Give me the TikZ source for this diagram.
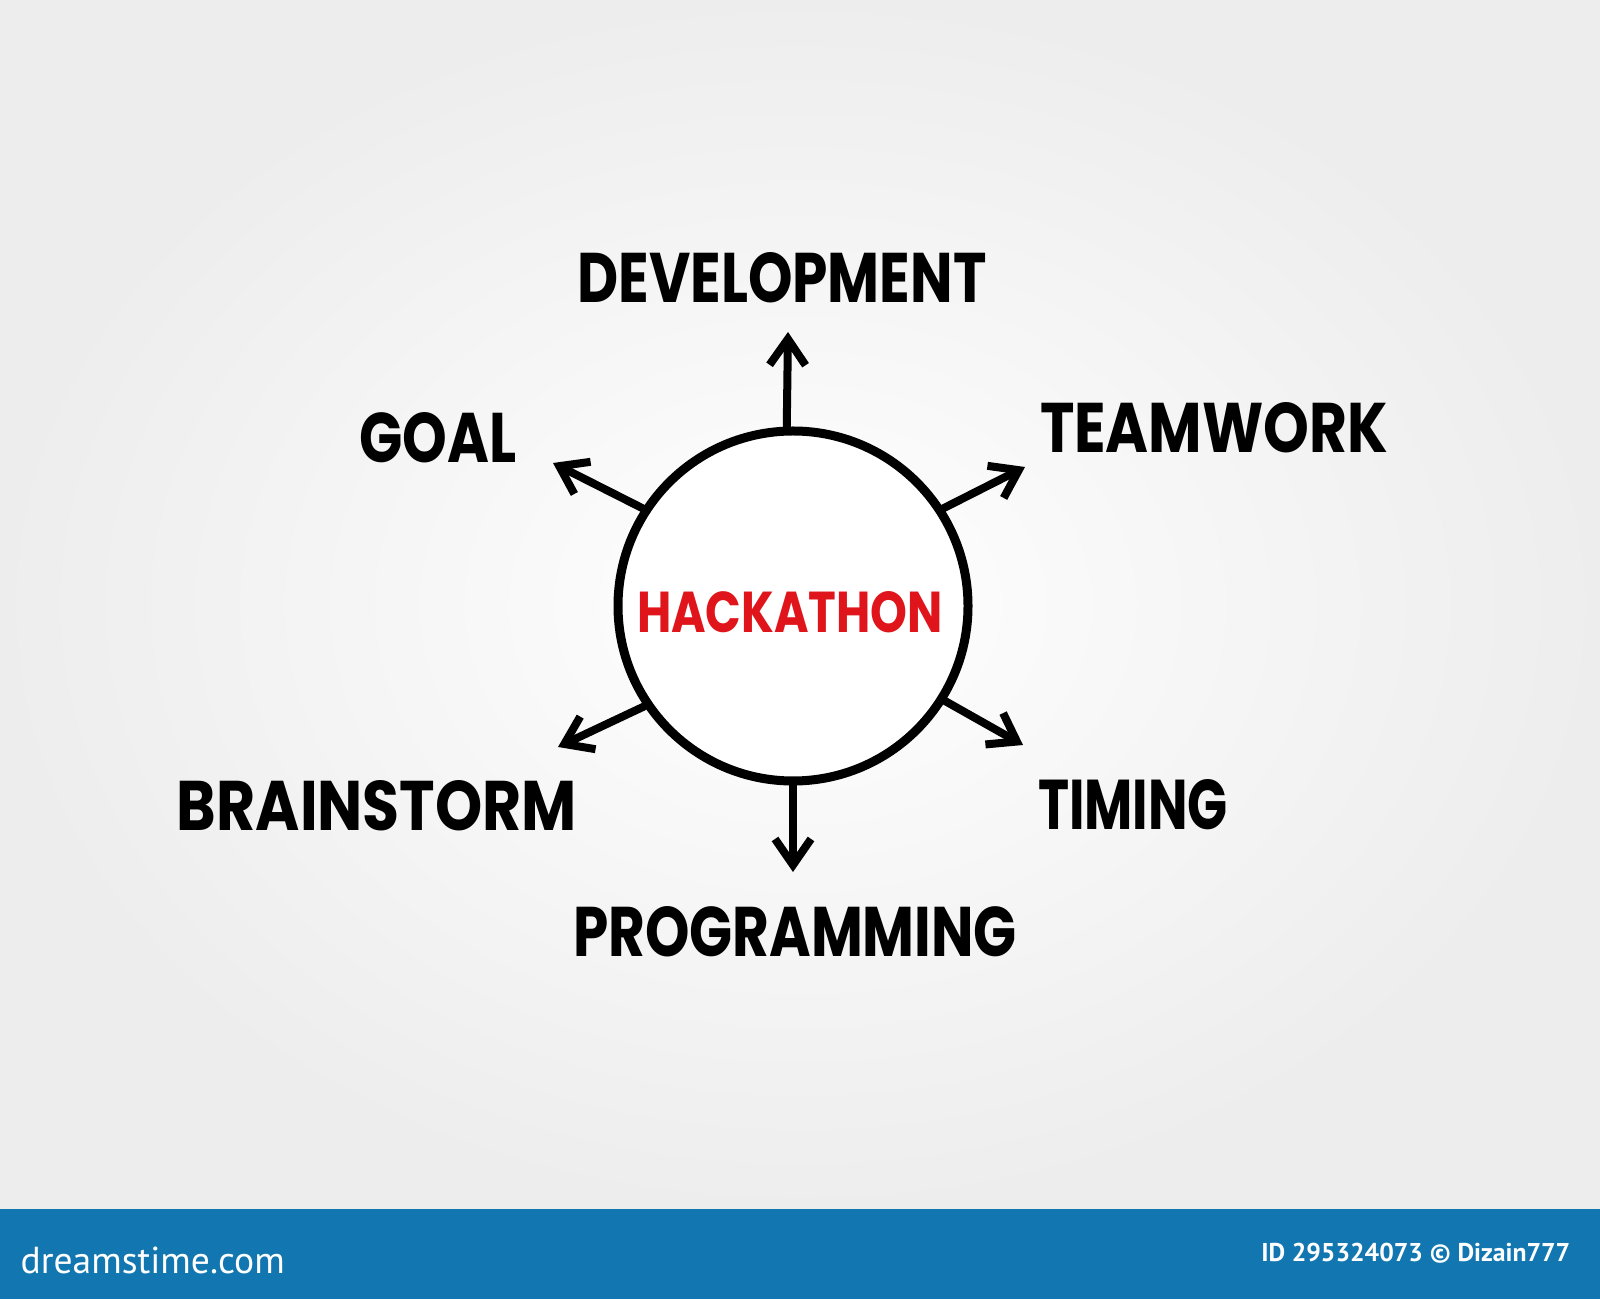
\documentclass[tikz,border=0pt]{standalone}
\usepackage{fontspec}
\setmainfont{Poppins}
\newfontfamily\barfont{PT Sans}
\usetikzlibrary{calc, arrows.meta, positioning}
\usepackage{xcolor}
\definecolor{barblue}{HTML}{1277B0}
\definecolor{hackred}{HTML}{E0141B}
\newcommand{\word}[3]{\resizebox{#1}{#2}{\bfseries #3}}

\begin{document}
\begin{tikzpicture}[auto, >={Straight Barb[length=2.6mm, width=3.6mm, line width=0.08cm]}]
				\tikzstyle{round} = [line width=0.09cm, draw=black, fill=white, circle, minimum size=3.5cm, inner sep=0pt]
				\tikzstyle{invis} = [draw=none, inner sep=0pt]
				\tikzstyle{arr}   = [->, line width=0.08cm, line cap=round, line join=round]
				
				\useasboundingbox (0,0) rectangle (16,12.99);
				\shade[inner color=white, outer color=black!7] (0,0.9) rectangle (16,12.99);
				\fill[barblue] (0,0) rectangle (16,0.9);
				
				\node[round] 			at (7.93, 6.93)		(hack) 	{};
				\node[invis, text=hackred] at (7.90, 6.87)	(hlbl) 	{\word{3.06cm}{0.41cm}{HACKATHON}};
				\node[invis] 			at (7.82, 10.21)	(dev) 	{\word{4.09cm}{0.50cm}{DEVELOPMENT}};
				\node[invis] 			at (4.38, 8.61)		(goal) 	{\word{1.57cm}{0.50cm}{GOAL}};
				\node[invis] 			at (12.14, 8.71)	(team) 	{\word{3.48cm}{0.50cm}{TEAMWORK}};
				\node[invis] 			at (3.77, 4.93)		(brain) {\word{4.00cm}{0.50cm}{BRAINSTORM}};
				\node[invis] 			at (11.33, 4.94)	(timing) {\word{1.90cm}{0.50cm}{TIMING}};
				\node[invis] 			at (7.95, 3.67)		(prog) 	{\word{4.44cm}{0.50cm}{PROGRAMMING}};
				
				\coordinate (devtip)	at (7.88, 9.67);
				\coordinate (goaltip)	at (5.53, 8.36);
				\coordinate (teamtip)	at (10.25, 8.32);
				\coordinate (braintip)	at (5.58, 5.52);
				\coordinate (timetip)	at (10.23, 5.54);
				\coordinate (progtip)	at (7.93, 4.27);
				
				\path[arr]
				(hack.92)	edge	(devtip)
				(hack.147)	edge	(goaltip)
				(hack.33)	edge	(teamtip)
				(hack.214)	edge	(braintip)
				(hack.-32)	edge	(timetip)
				(hack.270)	edge	(progtip);
				
				\node[invis, text=white, anchor=west] at (0.20, 0.39) (site) {\barfont\resizebox{2.64cm}{!}{dreamstime.com}};
				\node[invis, text=white, anchor=east] at (15.71, 0.46) (stock) {\barfont\resizebox{3.09cm}{!}{\bfseries ID 295324073 © Dizain777}};
			\end{tikzpicture}
\end{document}
